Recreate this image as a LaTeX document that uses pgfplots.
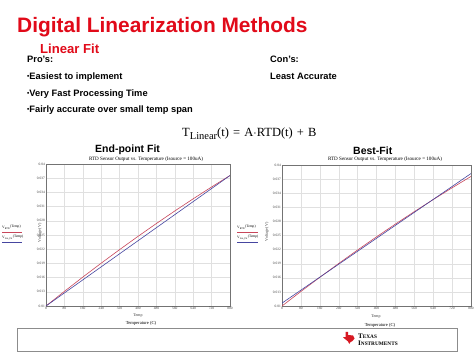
\documentclass[border=0pt]{standalone}
\usepackage{fontspec}
\setmainfont{Liberation Sans}
\newfontfamily\serif{Liberation Serif}
\usepackage{pgfplots}
\usepackage{pgfplotstable}
\pgfplotsset{compat=1.18}

\definecolor{slidered}{RGB}{225,10,25}
\definecolor{rtdred}{RGB}{200,70,90}
\definecolor{fitblue}{RGB}{70,70,160}
\definecolor{tired}{RGB}{215,25,35}

% RTD output (Isource = 100uA), volts
\pgfplotstableread{
t v
0   0.0100000
80  0.0130897
160 0.0161054
240 0.0190473
320 0.0219152
400 0.0247092
480 0.0274293
560 0.0300754
640 0.0326477
720 0.0351460
800 0.0375704
}\rtd
% end-point linear fit
\pgfplotstableread{
t v
0   0.0100000
800 0.0375704
}\endfit
% best (least squares) linear fit
\pgfplotstableread{
t v
0   0.0106160
800 0.0381864
}\bestfit

\pgfplotsset{rtdaxis/.style={
  scale only axis,
  xmin=0, xmax=800, ymin=0.01, ymax=0.04,
  xtick={0,80,160,240,320,400,480,560,640,720,800},
  ytick={0.01,0.013,0.016,0.019,0.022,0.025,0.028,0.031,0.034,0.037,0.04},
  scaled y ticks=false, scaled x ticks=false,
  yticklabel style={/pgf/number format/fixed,/pgf/number format/precision=3},
  /pgf/number format/assume math mode=true,
  tick label style={font=\serif\fontsize{3.5}{4}\selectfont, text=black!75, inner sep=1pt},
  grid=major,
  major grid style={black!12, line width=0.3pt},
  axis line style={black!55, line width=0.5pt},
  tick style={draw=none},
  every axis plot/.append style={line width=0.6pt, no marks},
}}

\begin{document}
\begin{tikzpicture}[x=1pt,y=1pt]
\useasboundingbox[fill=white] (0,0) rectangle (474,355);

% slide texts
\node[anchor=base west, inner sep=0, text=slidered, font=\bfseries\fontsize{20.9}{24}\selectfont] at (17,322) {Digital Linearization Methods};
\node[anchor=base west, inner sep=0, text=slidered, font=\bfseries\fontsize{13.1}{15}\selectfont] at (40,301) {Linear Fit};
\begin{scope}[every node/.style={anchor=base west, inner sep=0, font=\bfseries\fontsize{9.3}{11}\selectfont}]
\node at (27,292) {Pro's:};
\node at (27,275) {{\fontsize{6.5}{6}\selectfont\raisebox{1.3pt}{•}}Easiest to implement};
\node at (27,258) {{\fontsize{6.5}{6}\selectfont\raisebox{1.3pt}{•}}Very Fast Processing Time};
\node at (27,242) {{\fontsize{6.5}{6}\selectfont\raisebox{1.3pt}{•}}Fairly accurate over small temp span};
\node at (270,292) {Con's:};
\node at (270,275) {Least Accurate};
\end{scope}
\node[anchor=base west, inner sep=0, font=\serif\fontsize{12.5}{14}\selectfont] at (182,218)
  {T\raisebox{-2.5pt}{\fontsize{10.5}{12}\selectfont Linear}(t)\,\,=\,\,A$\cdot$RTD(t)\,\,+\,\,B};

\node[anchor=base west, inner sep=0, font=\bfseries\fontsize{10.5}{12}\selectfont] at (95,202) {End-point Fit};
\node[anchor=base west, inner sep=0, font=\bfseries\fontsize{10.5}{12}\selectfont] at (353,200) {Best-Fit};

% ---------- left chart ----------
\begin{axis}[rtdaxis, at={(46pt,49pt)}, anchor=south west, width=184pt, height=142pt]
\addplot[rtdred] table[x=t,y=v] {\rtd};
\addplot[fitblue] table[x=t,y=v] {\endfit};
\end{axis}
% ---------- right chart ----------
\begin{axis}[rtdaxis, at={(282pt,49pt)}, anchor=south west, width=189pt, height=141pt]
\addplot[rtdred] table[x=t,y=v] {\rtd};
\addplot[fitblue] table[x=t,y=v] {\bestfit};
\end{axis}

% chart texts
\begin{scope}[every node/.style={inner sep=0, font=\serif\fontsize{5.1}{6}\selectfont}]
\node[anchor=base] at (146,194) {RTD Sensor Output vs. Temperature (Isource = 100uA)};
\node[anchor=base] at (385,194) {RTD Sensor Output vs. Temperature (Isource = 100uA)};
\end{scope}
\begin{scope}[every node/.style={inner sep=0, font=\serif\fontsize{4}{5}\selectfont, text=black!80}]
\node[anchor=base] at (138,38) {Temp};
\node[anchor=base] at (376,37) {Temp};
\node[anchor=center, rotate=90] at (40,122) {Voltage (V)};
\node[anchor=center, rotate=90] at (267,123) {Voltage (V)};
\end{scope}
\begin{scope}[every node/.style={inner sep=0, font=\serif\fontsize{4.6}{5.5}\selectfont}]
\node[anchor=base] at (141,30) {Temperature (C)};
\node[anchor=base] at (380,28) {Temperature (C)};
\end{scope}
% legends
\begin{scope}[every node/.style={anchor=base west, inner sep=0, font=\serif\fontsize{3.6}{4}\selectfont}]
\node at (2,126) {V\textsubscript{RTD}\raisebox{1pt}{(Temp)}};
\draw[rtdred, line width=0.5pt] (2,123) -- (22,123);
\node at (2,116) {V\textsubscript{Lin\_Fit}\raisebox{1pt}{(Temp)}};
\draw[fitblue, line width=0.5pt] (2,113) -- (22,113);
\node at (237,126) {V\textsubscript{RTD}\raisebox{1pt}{(Temp)}};
\draw[rtdred, line width=0.5pt] (237,123) -- (258,123);
\node at (237,116) {V\textsubscript{Lin\_Fit}\raisebox{1pt}{(Temp)}};
\draw[fitblue, line width=0.5pt] (237,113) -- (258,113);
\end{scope}

% footer box and logo
\draw[black!45, line width=0.6pt] (17,4) rectangle (457,27);
\fill[tired] (345.5,23) -- (348,23) -- (348,20) -- (353,19.5) -- (354.5,16.5) -- (352.5,14)
  -- (350,12.5) -- (349.3,11) -- (347.8,13.8) -- (345.8,15.3) -- (343,17.8) -- (345.5,17.8) -- cycle;
\node[anchor=base west, inner sep=0, font=\serif\bfseries] at (358,16)
  {\fontsize{7}{8}\selectfont T\fontsize{5.3}{6}\selectfont EXAS};
\node[anchor=base west, inner sep=0, font=\serif\bfseries] at (358,9.5)
  {\fontsize{7}{8}\selectfont I\fontsize{5.3}{6}\selectfont NSTRUMENTS};
\end{tikzpicture}
\end{document}
